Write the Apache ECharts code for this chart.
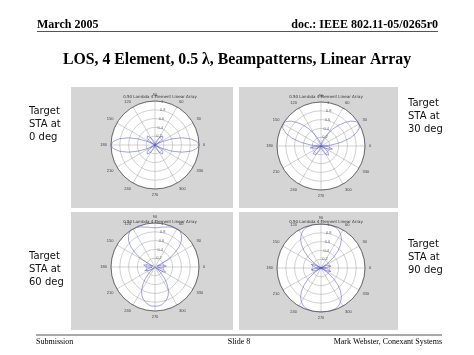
<!DOCTYPE html>
<html>
<head>
<meta charset="utf-8">
<script src="https://cdn.jsdelivr.net/npm/echarts@6/dist/echarts.min.js"></script>
<style>
  html, body { margin: 0; padding: 0; background: #fff; }
  #chart { width: 474px; height: 355px; }
</style>
</head>
<body>
<div id="chart"></div>
<script>
// angle samples (deg) and beampattern magnitudes
const angles = [0,5,10,15,20,25,30,35,40,45,50,55,60,65,70,75,80,85,90,
  95,100,105,110,115,120,125,130,135,140,145,150,155,160,165,170,175,180,
  185,190,195,200,205,210,215,220,225,230,235,240,245,250,255,260,265,270,
  275,280,285,290,295,300,305,310,315,320,325,330,335,340,345,350,355,360];

const target0 = [1,0.95,0.82,0.63,0.41,0.19,0,0.14,0.23,0.27,0.27,0.24,0.19,0.14,0.09,0.05,0.02,0.01,0,
  0.01,0.02,0.05,0.09,0.14,0.19,0.24,0.27,0.27,0.23,0.14,0,0.19,0.41,0.63,0.82,0.95,1,
  0.95,0.82,0.63,0.41,0.19,0,0.14,0.23,0.27,0.27,0.24,0.19,0.14,0.09,0.05,0.02,0.01,0,
  0.01,0.02,0.05,0.09,0.14,0.19,0.24,0.27,0.27,0.23,0.14,0,0.19,0.41,0.63,0.82,0.95,1];

const target30 = [0,0.22,0.45,0.68,0.85,0.96,1,0.97,0.88,0.75,0.61,0.47,0.34,0.23,0.15,0.08,0.03,0.01,0,
  0.01,0.03,0.08,0.15,0.23,0.34,0.47,0.61,0.75,0.88,0.97,1,0.96,0.85,0.68,0.45,0.22,0,
  0.16,0.25,0.27,0.22,0.12,0,0.11,0.2,0.25,0.27,0.26,0.22,0.17,0.12,0.07,0.03,0.01,0,
  0.01,0.03,0.07,0.12,0.17,0.22,0.26,0.27,0.25,0.2,0.11,0,0.12,0.22,0.27,0.25,0.16,0];

const target60 = [0.19,0.26,0.26,0.19,0.05,0.14,0.34,0.54,0.72,0.85,0.94,0.99,1,0.99,0.97,0.94,0.92,0.9,0.89,
  0.9,0.92,0.94,0.97,0.99,1,0.99,0.94,0.85,0.72,0.54,0.34,0.14,0.05,0.19,0.26,0.26,0.19,
  0.07,0.06,0.18,0.25,0.27,0.22,0.12,0.02,0.18,0.34,0.48,0.61,0.71,0.78,0.83,0.87,0.89,0.89,
  0.89,0.87,0.83,0.78,0.71,0.61,0.48,0.34,0.18,0.02,0.12,0.22,0.27,0.25,0.18,0.06,0.07,0.19];

const target90 = [0,0.13,0.23,0.27,0.24,0.15,0,0.18,0.37,0.54,0.69,0.81,0.89,0.95,0.98,0.99,1,1,1,
  1,1,0.99,0.98,0.95,0.89,0.81,0.69,0.54,0.37,0.18,0,0.15,0.24,0.27,0.23,0.13,0,
  0.13,0.23,0.27,0.24,0.15,0,0.18,0.37,0.54,0.69,0.81,0.89,0.95,0.98,0.99,1,1,1,
  1,1,0.99,0.98,0.95,0.89,0.81,0.69,0.54,0.37,0.18,0,0.15,0.24,0.27,0.23,0.13,0];

const ringTicks = [0.2, 0.4, 0.6, 0.8, 1];
const plotTitle = '0.50 Lambda 4 Element Linear Array';
const sideLabels = ['Target\nSTA at\n0 deg', 'Target\nSTA at\n30 deg', 'Target\nSTA at\n60 deg', 'Target\nSTA at\n90 deg'];

const chart = echarts.init(document.getElementById('chart'), null, { renderer: 'canvas' });

// panel layout: gray figure box + polar centre
const panels = [
  { box: [71, 87, 162, 121], center: [155, 145], label: [29, 124] },
  { box: [239, 87, 159, 121], center: [321, 146], label: [408, 116] },
  { box: [71, 212, 162, 118], center: [155, 267], label: [29, 269] },
  { box: [239, 212, 159, 118], center: [321, 268], label: [408, 257] }
];
const patterns = [target0, target30, target60, target90];
const R = 44;

const polar = [], angleAxis = [], radiusAxis = [], series = [], titles = [];

panels.forEach((p, i) => {
  polar.push({ center: p.center, radius: R });
  angleAxis.push({
    polarIndex: i, type: 'value', min: 0, max: 360, interval: 30,
    startAngle: 0, clockwise: false, z: 1,
    axisLine: { show: true, lineStyle: { color: '#555', width: 0.8 } },
    axisTick: { show: false },
    axisLabel: { fontSize: 4, color: '#444', margin: 4,
      formatter: v => (v === 360 ? '' : String(v)) },
    splitLine: { show: true, lineStyle: { color: '#a0a0a0', width: 0.5 } }
  });
  radiusAxis.push({
    polarIndex: i, type: 'value', min: 0, max: 1, interval: 0.2, z: 1,
    axisLine: { show: false }, axisTick: { show: false }, axisLabel: { show: false },
    splitLine: { show: true, lineStyle: { color: '#a0a0a0', width: 0.5 } }
  });
  series.push({
    type: 'line', coordinateSystem: 'polar', polarIndex: i,
    showSymbol: false, silent: true, animation: false, z: 3,
    lineStyle: { color: '#4a4ad8', width: 0.6, opacity: 0.85 },
    data: angles.map((a, k) => [patterns[i][k], a])
  });
  // radial tick labels, MATLAB style, near 80 deg
  series.push({
    type: 'scatter', coordinateSystem: 'polar', polarIndex: i,
    symbolSize: 0, silent: true, animation: false, z: 4,
    label: { show: true, position: 'right', distance: 0, fontSize: 4, color: '#444',
      formatter: d => String(d.value[0]) },
    data: ringTicks.map(r => [r, 82])
  });
  titles.push({
    text: plotTitle, left: p.center[0], top: p.box[1] + 3,
    textAlign: 'center',
    textStyle: { fontSize: 4, fontWeight: 'normal', color: '#333', fontFamily: 'DejaVu Sans' }
  });
});

const graphic = [];
panels.forEach((p, i) => {
  graphic.push({ type: 'rect', z: -10, silent: true,
    shape: { x: p.box[0], y: p.box[1], width: p.box[2], height: p.box[3] },
    style: { fill: '#d5d5d5' } });
  // white plot face behind the polar grid
  graphic.push({ type: 'circle', z: -9, silent: true,
    shape: { cx: p.center[0], cy: p.center[1], r: R },
    style: { fill: '#fff' } });
  graphic.push({ type: 'text', silent: true, x: p.label[0], y: p.label[1],
    style: { text: sideLabels[i], fill: '#111', font: '10px "DejaVu Sans"', lineHeight: 13,
      textVerticalAlign: 'middle' } });
});

// slide header / footer
graphic.push(
  { type: 'text', x: 37, y: 25, style: { text: 'March 2005', fill: '#000',
    font: 'bold 12px "Liberation Serif"', textVerticalAlign: 'middle' } },
  { type: 'text', x: 438, y: 25, style: { text: 'doc.: IEEE 802.11-05/0265r0', fill: '#000',
    font: 'bold 12px "Liberation Serif"', textAlign: 'right', textVerticalAlign: 'middle' } },
  { type: 'line', shape: { x1: 37, y1: 31.5, x2: 438, y2: 31.5 }, style: { stroke: '#555', lineWidth: 1 } },
  { type: 'text', x: 237, y: 60, style: { text: 'LOS, 4 Element, 0.5 \u03bb, Beampatterns, Linear Array',
    fill: '#000', font: 'bold 15.8px "Liberation Serif"', textAlign: 'center', textVerticalAlign: 'middle' } },
  { type: 'line', shape: { x1: 36, y1: 335, x2: 442, y2: 335 }, style: { stroke: '#555', lineWidth: 1 } },
  { type: 'text', x: 36, y: 342, style: { text: 'Submission', fill: '#000',
    font: '8px "Liberation Serif"', textVerticalAlign: 'middle' } },
  { type: 'text', x: 239, y: 342, style: { text: 'Slide 8', fill: '#000',
    font: '8px "Liberation Serif"', textAlign: 'center', textVerticalAlign: 'middle' } },
  { type: 'text', x: 442, y: 342, style: { text: 'Mark Webster, Conexant Systems', fill: '#000',
    font: '8px "Liberation Serif"', textAlign: 'right', textVerticalAlign: 'middle' } }
);

chart.setOption({
  backgroundColor: '#fff',
  animation: false,
  title: titles,
  polar: polar,
  angleAxis: angleAxis,
  radiusAxis: radiusAxis,
  series: series,
  graphic: graphic
});
</script>
</body>
</html>
